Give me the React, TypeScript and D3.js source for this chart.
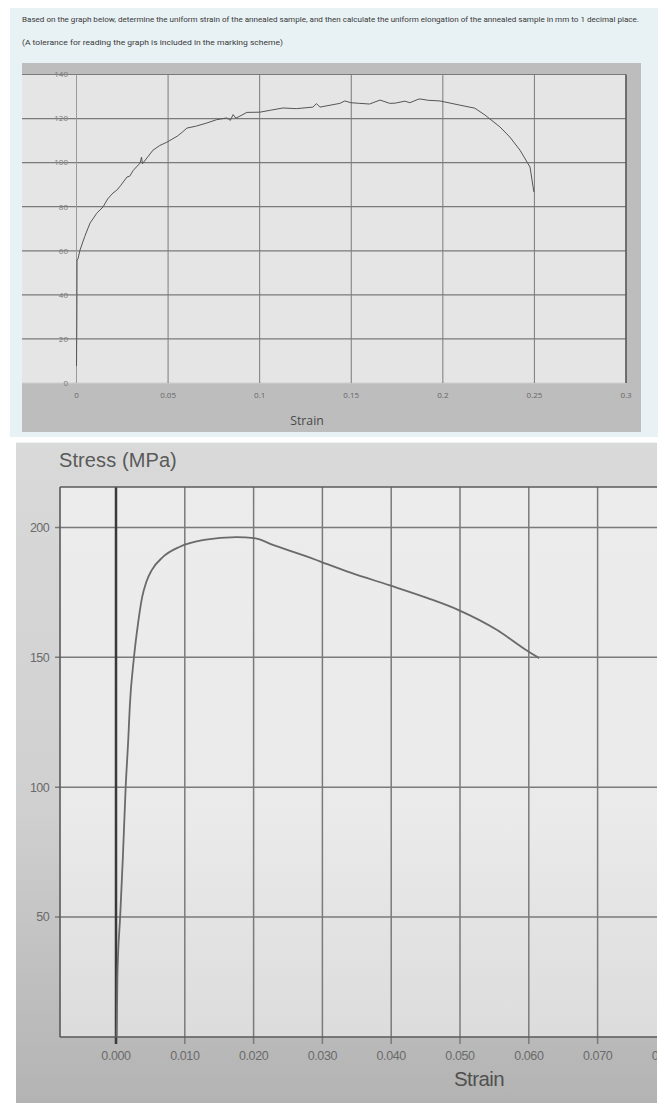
import React from "react";
import * as d3 from "d3";

// ---------- Top chart (annealed sample) ----------
const topStrainTicks = [0, 0.05, 0.1, 0.15, 0.2, 0.25, 0.3];
const topStrainLabels = ["0", "0.05", "0.1", "0.15", "0.2", "0.25", "0.3"];
const topStressTicks = [0, 20, 40, 60, 80, 100, 120, 140];
const topStrain = [
  0, 0.0002, 0.0003, 0.0008, 0.0019, 0.0045, 0.0074, 0.009, 0.011, 0.0145, 0.017, 0.0199, 0.022, 0.024,
  0.0276, 0.029, 0.031, 0.0347, 0.0355, 0.036, 0.0418, 0.0455, 0.0494, 0.055, 0.058, 0.0603, 0.065, 0.0712, 0.0765,
  0.0821, 0.084, 0.0855, 0.087, 0.0892, 0.093, 0.1001, 0.106, 0.1127, 0.12, 0.1291, 0.131,
  0.1329, 0.1438, 0.1465, 0.1498, 0.1547, 0.16, 0.1657, 0.171, 0.174, 0.1793, 0.182, 0.1864, 0.1875, 0.192, 0.1984,
  0.2093, 0.2175, 0.223, 0.2312, 0.2366, 0.2421, 0.2476, 0.2497,
];
const topStress = [
  7.7, 30, 55.8, 56.3, 60.3, 66.5, 72.6, 74.5, 77, 79.9, 83.5, 86.2, 87.5, 89.5,
  93.5, 93.8, 96.5, 99.8, 102.5, 99.5, 105.7, 107.8, 109.3, 112, 114, 115.7, 116.5, 118, 119.5,
  120.3, 119.2, 121.8, 120.2, 121.1, 122.8, 122.9, 123.8, 124.8, 124.5, 125.2, 126.8,
  125.2, 126.9, 128, 127.2, 126.9, 126.6, 128.4, 126.9, 127, 127.9, 127.2, 128.7, 128.9, 128.3, 128,
  126.1, 124.7, 121.6, 116.2, 111.6, 105.7, 98, 86.7,
];

// ---------- Bottom chart ----------
const botStrainTicks = [0, 0.01, 0.02, 0.03, 0.04, 0.05, 0.06, 0.07, 0.08];
const botStrainLabels = ["0.000", "0.010", "0.020", "0.030", "0.040", "0.050", "0.060", "0.070", "0.080"];
const botStressTicks = [50, 100, 150, 200];
const botStrain = [
  0.0001, 0.0002, 0.0006, 0.001, 0.0014, 0.0018, 0.002, 0.0026, 0.0032, 0.0038, 0.0044, 0.0052, 0.0068, 0.0092,
  0.0128, 0.0175, 0.0201, 0.0229, 0.028, 0.0299, 0.0342, 0.0397, 0.0453, 0.0498, 0.0554, 0.0596, 0.0615,
];
const botStress = [
  4, 26.9, 50, 73.1, 99.7, 119.3, 130.9, 149.7, 163, 173.2, 179, 183.6, 188.6, 192.5,
  195.2, 196.3, 195.9, 193.2, 188.6, 186.7, 182.5, 177.8, 172.8, 168.2, 160.5, 152.8, 149.7,
];

const question1 =
  "Based on the graph below, determine the uniform strain of the annealed sample, and then calculate the uniform elongation of the annealed sample in mm to 1 decimal place.";
const question2 = "(A tolerance for reading the graph is included in the marking scheme)";

export default function App() {
  const tx = d3.scaleLinear().domain([0, 0.3]).range([76.5, 626]);
  const ty = d3.scaleLinear().domain([0, 140]).range([383, 74.5]);
  const topLine = d3
    .line<number>()
    .x((_, i) => tx(topStrain[i]))
    .y((d) => ty(d))(topStress) as string;

  const bx = d3.scaleLinear().domain([0, 0.08]).range([116, 666.4]);
  const by = d3.scaleLinear().domain([50, 200]).range([917, 527.5]);
  const botLine = d3
    .line<number>()
    .x((_, i) => bx(botStrain[i]))
    .y((d) => by(d))
    .curve(d3.curveMonotoneX)(botStress) as string;

  const pTop = 487;
  const pBot = 1037;
  const pLeft = 60;
  const pRight = 657;

  return (
    <svg
      width={665}
      height={1110}
      style={{ position: "absolute", left: 0, top: 0, background: "#ffffff" }}
    >
      <defs>
        <linearGradient id="botPanel" x1="0" y1="0" x2="0" y2="1">
          <stop offset="0" stopColor="#d9d9d9" />
          <stop offset="0.55" stopColor="#d0d0d0" />
          <stop offset="1" stopColor="#b3b3b3" />
        </linearGradient>
        <linearGradient id="botPlot" x1="0" y1="0" x2="0" y2="1">
          <stop offset="0" stopColor="#ececec" />
          <stop offset="0.6" stopColor="#eaeaea" />
          <stop offset="1" stopColor="#dcdcdc" />
        </linearGradient>
        <clipPath id="botClip">
          <rect x={16} y={442} width={641} height={661} />
        </clipPath>
      </defs>

      {/* ---------- TOP PANEL ---------- */}
      <rect x={10} y={8} width={648} height={429} fill="#e8f1f4" />
      <text
        x={22}
        y={22}
        fontFamily="Roboto, sans-serif"
        fontSize={7}
        fill="#3a3a3a"
        textLength={617}
        lengthAdjust="spacingAndGlyphs"
      >
        {question1}
      </text>
      <text
        x={22}
        y={45}
        fontFamily="Roboto, sans-serif"
        fontSize={7}
        fill="#3a3a3a"
        textLength={261}
        lengthAdjust="spacingAndGlyphs"
      >
        {question2}
      </text>

      <rect x={22} y={63} width={619} height={369} fill="#bdbdbd" />
      <rect x={22} y={74.5} width={604} height={308.5} fill="#e5e5e5" />

      {topStressTicks.map((v) => (
        <line
          key={"th" + v}
          x1={22}
          x2={626}
          y1={ty(v)}
          y2={ty(v)}
          stroke={v === 0 ? "#cfcfcf" : "#7a7a7a"}
          strokeWidth={1.2}
        />
      ))}
      {topStrainTicks.map((v) => (
        <line
          key={"tv" + v}
          x1={tx(v)}
          x2={tx(v)}
          y1={74.5}
          y2={383}
          stroke={v === 0.3 ? "#555" : v === 0 ? "#9a9a9a" : "#7a7a7a"}
          strokeWidth={v === 0.3 ? 1.6 : 1}
        />
      ))}
      {topStressTicks.map((v) => (
        <text
          key={"tl" + v}
          x={68}
          y={ty(v)}
          dy="0.35em"
          textAnchor="end"
          fontFamily="'Open Sans', sans-serif"
          fontSize={8}
          fill="#7a7a7a"
        >
          {v}
        </text>
      ))}
      {topStrainTicks.map((v, i) => (
        <text
          key={"tx" + v}
          x={tx(v)}
          y={398}
          textAnchor="middle"
          fontFamily="'Open Sans', sans-serif"
          fontSize={8}
          fill="#666"
        >
          {topStrainLabels[i]}
        </text>
      ))}
      <text
        x={307}
        y={425}
        textAnchor="middle"
        fontFamily="'Open Sans', sans-serif"
        fontSize={12.3}
        fill="#4a4a4a"
      >
        Strain
      </text>
      <path d={topLine} fill="none" stroke="#555" strokeWidth={1} />

      {/* ---------- BOTTOM PANEL ---------- */}
      <g clipPath="url(#botClip)">
        <rect x={16} y={442} width={641} height={661} fill="url(#botPanel)" />
        <line x1={16} x2={657} y1={442.5} y2={442.5} stroke="#eef3f5" strokeWidth={1} />
        <rect x={pLeft} y={pTop} width={pRight - pLeft} height={pBot - pTop} fill="url(#botPlot)" />

        {botStressTicks.map((v) => (
          <line
            key={"bh" + v}
            x1={55}
            x2={pRight}
            y1={by(v)}
            y2={by(v)}
            stroke="#7a7a7a"
            strokeWidth={1.5}
          />
        ))}
        {botStrainTicks.map((v) => (
          <line
            key={"bv" + v}
            x1={bx(v)}
            x2={bx(v)}
            y1={pTop}
            y2={pBot + 7}
            stroke={v === 0 ? "#3a3a3a" : "#7a7a7a"}
            strokeWidth={v === 0 ? 2.5 : 1.5}
          />
        ))}
        <line x1={pLeft} x2={pRight} y1={pTop} y2={pTop} stroke="#5a5a5a" strokeWidth={1.6} />
        <line x1={pLeft} x2={pRight} y1={pBot} y2={pBot} stroke="#5a5a5a" strokeWidth={1.6} />
        <line x1={pLeft} x2={pLeft} y1={pTop} y2={pBot} stroke="#5a5a5a" strokeWidth={1.6} />

        {botStressTicks.map((v) => (
          <text
            key={"bl" + v}
            x={49}
            y={by(v)}
            dy="0.35em"
            textAnchor="end"
            fontFamily="'Liberation Sans', Arial, sans-serif"
            fontSize={12.5}
            fill="#6a6a6a"
            letterSpacing={-0.6}
          >
            {v}
          </text>
        ))}
        {botStrainTicks.map((v, i) => (
          <text
            key={"bx" + v}
            x={bx(v)}
            y={1060}
            textAnchor="middle"
            fontFamily="'Liberation Sans', Arial, sans-serif"
            fontSize={12.5}
            fill="#6a6a6a"
            letterSpacing={-0.4}
          >
            {botStrainLabels[i]}
          </text>
        ))}
        <text
          x={479}
          y={1086}
          textAnchor="middle"
          fontFamily="'Liberation Sans', Arial, sans-serif"
          fontSize={20.5}
          fill="#505050"
          letterSpacing={-0.6}
        >
          Strain
        </text>
        <text
          x={59}
          y={467}
          fontFamily="'Liberation Sans', Arial, sans-serif"
          fontSize={20}
          fill="#5a5a5a"
          letterSpacing={0.1}
        >
          Stress (MPa)
        </text>

        <path d={botLine} fill="none" stroke="#6a6a6a" strokeWidth={1.8} />
      </g>
    </svg>
  );
}
